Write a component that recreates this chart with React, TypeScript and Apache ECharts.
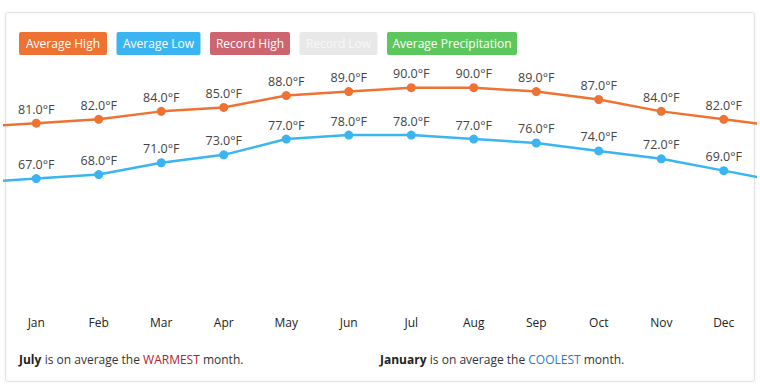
import React, { useEffect, useRef } from "react";
import * as echarts from "echarts";

const months = ["Jan", "Feb", "Mar", "Apr", "May", "Jun", "Jul", "Aug", "Sep", "Oct", "Nov", "Dec"];
const avgHigh = [81, 82, 84, 85, 88, 89, 90, 90, 89, 87, 84, 82];
const avgLow = [67, 68, 71, 73, 77, 78, 78, 77, 76, 74, 72, 69];
// values just beyond the visible months (line runs off the chart edges)
const highEdges = [80, 80];
const lowEdges = [66, 66];
const legendNames = ["Average High", "Average Low", "Record High", "Record Low", "Average Precipitation"];
const legendColors = ["#EE7332", "#3BB5F2", "#CC6570", "#E8E8E8", "#5CC75C"];
const legendTextColors = ["#fff", "#fff", "#fff", "#f7f7f7", "#fff"];

const FONT = "'Open Sans', 'Noto Sans', sans-serif";

function buildSeries(values: number[], edges: number[]) {
  const pts: any[] = [];
  pts.push({ value: [-1, edges[0]], symbol: "none", label: { show: false } });
  values.forEach((v, i) => pts.push({ value: [i, v] }));
  pts.push({ value: [values.length, edges[1]], symbol: "none", label: { show: false } });
  return pts;
}

export default function App() {
  const ref = useRef<HTMLDivElement>(null);
  useEffect(() => {
    const chart = echarts.init(ref.current!, null, { renderer: "svg" });

    const legendGraphics: any[] = [];
    let x = 19;
    const widths = [88, 84, 80, 78, 130];
    legendNames.forEach((n, i) => {
      const w = widths[i];
      legendGraphics.push({
        type: "rect",
        shape: { x, y: 32, width: w, height: 23, r: 2 },
        style: { fill: legendColors[i] },
      });
      legendGraphics.push({
        type: "text",
        x: x + w / 2,
        y: 43.5,
        style: {
          text: n,
          fill: legendTextColors[i],
          font: `12px ${FONT}`,
          textAlign: "center",
          textVerticalAlign: "middle",
        },
      });
      x += w + 9.5;
    });

    const lineSeries = (name: string, color: string, values: number[], edges: number[]) => ({
      name,
      type: "line",
      xAxisIndex: 1,
      data: buildSeries(values, edges),
      symbol: "circle",
      symbolSize: 9,
      clip: true,
      lineStyle: { color, width: 2.5 },
      itemStyle: { color },
      label: {
        show: true,
        position: "top",
        distance: 3,
        color: "#444",
        fontSize: 12.5,
        fontFamily: FONT,
        formatter: (p: any) => `${Number(p.value[1]).toFixed(1)}°F`,
      },
    });

    chart.setOption({
      animation: false,
      grid: { left: 5, right: 5, top: 60, height: 245 },
      xAxis: [
        {
          type: "category",
          data: months,
          boundaryGap: true,
          axisLine: { show: false },
          axisTick: { show: false },
          splitLine: { show: false },
          axisLabel: { color: "#222", fontSize: 12, fontFamily: FONT, margin: 11 },
        },
        {
          type: "value",
          min: -0.5,
          max: 11.5,
          show: false,
        },
      ],
      yAxis: {
        type: "value",
        min: 35,
        max: 97,
        show: false,
        splitLine: { show: false },
      },
      series: [
        lineSeries("Average High", legendColors[0], avgHigh, highEdges),
        lineSeries("Average Low", legendColors[1], avgLow, lowEdges),
      ],
      graphic: [
        {
          type: "rect",
          shape: { x: 5.5, y: 12.5, width: 749, height: 369, r: 2 },
          style: { fill: "none", stroke: "#e2e2e2", lineWidth: 1, shadowColor: "rgba(0,0,0,0.08)", shadowBlur: 3 },
          silent: true,
        },
        ...legendGraphics,
        {
          type: "text",
          x: 19,
          y: 359,
          style: {
            text: "{b|July} {n|is on average the }{w|WARMEST}{n| month.}",
            textVerticalAlign: "middle",
            rich: {
              b: { fontWeight: "bold", fill: "#222", fontFamily: FONT, fontSize: 12 },
              n: { fill: "#333", fontFamily: FONT, fontSize: 12 },
              w: { fill: "#B0232E", fontFamily: FONT, fontSize: 12 },
            },
          },
        },
        {
          type: "text",
          x: 380,
          y: 359,
          style: {
            text: "{b|January} {n|is on average the }{c|COOLEST}{n| month.}",
            textVerticalAlign: "middle",
            rich: {
              b: { fontWeight: "bold", fill: "#222", fontFamily: FONT, fontSize: 12 },
              n: { fill: "#333", fontFamily: FONT, fontSize: 12 },
              c: { fill: "#2B7BBF", fontFamily: FONT, fontSize: 12 },
            },
          },
        },
      ],
    });
    return () => chart.dispose();
  }, []);
  return <div ref={ref} style={{ position: "fixed", left: 0, top: 0, width: 760, height: 390, background: "#fff" }} />;
}
